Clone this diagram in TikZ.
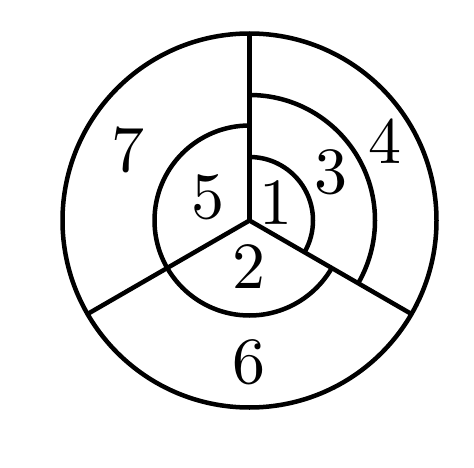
\documentclass[tikz,border=0pt]{standalone}
\usepackage{graphicx}
\usetikzlibrary{calc}
\newcommand{\bignum}[1]{\scalebox{6.6}{\fontsize{10}{12}\selectfont #1}}
\begin{document}
\begin{tikzpicture}[x=1pt,y=1pt,
  ring/.style={line width=4.5pt,black},
  num/.style={inner sep=0pt}]
\useasboundingbox (0,0) rectangle (474,467);
\coordinate (O) at (249.5,246.5);
% outer circle
\draw[ring] (O) circle[radius=187];
% radius lines
\coordinate (T) at ($(O)+(90:187)$);
\coordinate (R) at ($(O)+(-30:187)$);
\coordinate (L) at ($(O)+(210:187)$);
\draw[ring] (O) -- (T);
\draw[ring] (O) -- (R);
\draw[ring] (O) -- (L);
% inner arcs
\draw[ring] ($(O)+(90:95)$) arc[start angle=90,end angle=330,radius=95];
\draw[ring] ($(O)+(90:125.5)$) arc[start angle=90,end angle=-30,radius=125.5];
\draw[ring] ($(O)+(90:63.5)$) arc[start angle=90,end angle=-30,radius=63.5];
% labels
\node[num] (n7) at (128,317) {\bignum{7}};
\node[num] (n5) at (208,270) {\bignum{5}};
\node[num] (n1) at (276,264) {\bignum{1}};
\node[num] (n3) at (331,295) {\bignum{3}};
\node[num] (n4) at (385,326) {\bignum{4}};
\node[num] (n2) at (249,200) {\bignum{2}};
\node[num] (n6) at (249,105) {\bignum{6}};
\end{tikzpicture}
\end{document}
